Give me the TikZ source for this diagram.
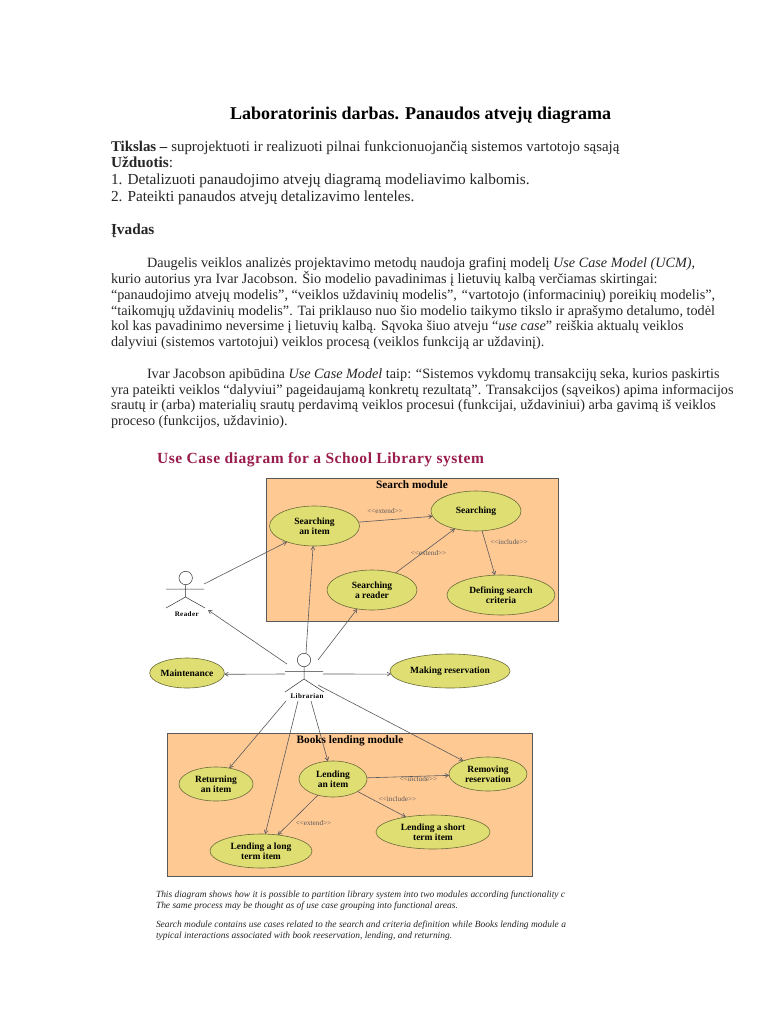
\documentclass[tikz,border=0pt]{standalone}
\usepackage{fontspec}
\setmainfont{Liberation Serif}
\usetikzlibrary{shapes.geometric,arrows.meta}
\definecolor{peach}{HTML}{FFC994}
\definecolor{olivefill}{HTML}{DEDE72}
\definecolor{edgeolive}{HTML}{6B6B3A}
\definecolor{crimson}{HTML}{9A1C4C}
\definecolor{linkgray}{HTML}{5A5A5A}
\tikzset{
  txt/.style={anchor=base west,inner sep=0pt,outer sep=0pt,text=black!85,font=\fontsize{14.2}{16}\selectfont},
  toptxt/.style={txt,font=\fontsize{15.3}{17}\selectfont},
  capt/.style={txt,font=\fontsize{9.45}{12}\selectfont\itshape},
  uc/.style={shape=ellipse,draw=edgeolive,line width=.6pt,fill=olivefill,inner sep=0pt,outer sep=0pt,align=center,font=\fontsize{9.5}{10.5}\selectfont\bfseries},
  module/.style={draw=black!65,line width=1pt,fill=peach},
  modtitle/.style={inner sep=0pt,font=\fontsize{11.3}{13}\selectfont\bfseries},
  link/.style={draw=linkgray,line width=.6pt,-{Straight Barb[length=3.5pt,width=4pt]}},
  stereo/.style={inner sep=0pt,text=black!65,font=\fontsize{7.2}{8}\selectfont},
  actor/.style={draw=black!80,line width=.5pt},
  actorlabel/.style={inner sep=0pt,font=\fontsize{7}{8}\selectfont\bfseries\addfontfeature{LetterSpace=6}},
  head/.style={shape=circle,draw=black!80,line width=.5pt,fill=white,inner sep=0pt,minimum size=13.4pt}
}
\begin{document}
\begin{tikzpicture}[x=1pt,y=-1pt]
\useasboundingbox (0,0) rectangle (768,1024);
\fill[white] (0,0) rectangle (768,1024);

% page text
\node[anchor=base west,inner sep=0pt,font=\fontsize{18}{20}\selectfont\bfseries] (title) at (230,119.5) {Laboratorinis darbas. Panaudos atvejų diagrama};
\node[toptxt,font=\fontsize{14.9}{17}\selectfont] (t1) at (111,152) {\textbf{Tikslas –} suprojektuoti ir realizuoti pilnai funkcionuojančią sistemos vartotojo sąsają};
\node[toptxt] (t2) at (111,168) {\textbf{Užduotis}:};
\node[toptxt] (t3) at (111,185) {1. Detalizuoti panaudojimo atvejų diagramą modeliavimo kalbomis.};
\node[toptxt] (t4) at (111,201.5) {2. Pateikti panaudos atvejų detalizavimo lenteles.};
\node[toptxt,font=\fontsize{15.3}{17}\selectfont\bfseries] (t5) at (111,235) {Įvadas};
\node[txt] (p1) at (147,267.5) {Daugelis veiklos analizės projektavimo metodų naudoja grafinį modelį \textit{Use Case Model (UCM)},};
\node[txt] (p2) at (111,283) {kurio autorius yra Ivar Jacobson. Šio modelio pavadinimas į lietuvių kalbą verčiamas skirtingai:};
\node[txt] (p3) at (111,299) {“panaudojimo atvejų modelis”, “veiklos uždavinių modelis”, \textit{“}vartotojo (informacinių) poreikių modelis”,};
\node[txt] (p4) at (111,315.5) {“taikomųjų uždavinių modelis”. Tai priklauso nuo šio modelio taikymo tikslo ir aprašymo detalumo, todėl};
\node[txt] (p5) at (111,330.5) {kol kas pavadinimo neversime į lietuvių kalbą. Sąvoka šiuo atveju “\textit{use case}” reiškia aktualų veiklos};
\node[txt] (p6) at (111,346) {dalyviui (sistemos vartotojui) veiklos procesą (veiklos funkciją ar uždavinį).};
\node[txt] (p7) at (147,378) {Ivar Jacobson apibūdina \textit{Use Case Model} taip: “Sistemos vykdomų transakcijų seka, kurios paskirtis};
\node[txt] (p8) at (111,394) {yra pateikti veiklos “dalyviui” pageidaujamą konkretų rezultatą”. Transakcijos (sąveikos) apima informacijos};
\node[txt] (p9) at (111,409.5) {srautų ir (arba) materialių srautų perdavimą veiklos procesui (funkcijai, uždaviniui) arba gavimą iš veiklos};
\node[txt] (p10) at (111,425) {proceso (funkcijos, uždavinio).};

\node[anchor=base west,inner sep=0pt,text=crimson,font=\fontsize{15.5}{17}\selectfont\bfseries\addfontfeature{LetterSpace=3.4}] (dtitle) at (157,463) {Use Case diagram for a School Library system};

% modules
\path[module] (266,478) rectangle (558,621);
\node[modtitle] (smod) at (412,485) {Search module};
\path[module] (167,733) rectangle (532,876);
\node[modtitle] (bmod) at (350,740.5) {Books lending module};

% use cases
\node[uc,minimum width=90pt,minimum height=40pt] (item) at (314.5,526) {Searching\\an item};
\node[uc,minimum width=90pt,minimum height=40pt] (search) at (476,511) {Searching};
\node[uc,minimum width=90pt,minimum height=40pt] (sreader) at (372,590) {Searching\\a reader};
\node[uc,minimum width=108pt,minimum height=40pt] (defcrit) at (501,595) {Defining search\\criteria};
\node[uc,minimum width=74pt,minimum height=30pt] (maint) at (187,673) {Maintenance};
\node[uc,minimum width=120pt,minimum height=34pt] (making) at (450,671) {Making reservation};
\node[uc,minimum width=74pt,minimum height=34pt] (ret) at (216,784) {Returning\\an item};
\node[uc,minimum width=68pt,minimum height=36pt] (lend) at (333,779) {Lending\\an item};
\node[uc,minimum width=78pt,minimum height=34pt] (remov) at (488,774) {Removing\\reservation};
\node[uc,minimum width=114pt,minimum height=34pt] (short) at (433,832) {Lending a short\\term item};
\node[uc,minimum width=102pt,minimum height=34pt] (long) at (261,851) {Lending a long\\term item};

% actors
\node[head] (rhead) at (185.7,578) {};
\draw[actor] (rhead.south) -- (185.5,597) (166,589) -- (204,589) (166,608) -- (185.5,597) -- (205,608);
\node[actorlabel] (rlabel) at (186.7,614) {Reader};
\node[head] (lhead) at (304,660) {};
\draw[actor] (lhead.south) -- (304,679) (285,671.7) -- (323,671.7) (285,692) -- (304,679) -- (324,692);
\node[actorlabel] (llabel) at (307,696.5) {Librarian};

\coordinate (rout) at (204,584);
\coordinate (rin) at (208,610);
\coordinate (la) at (306,653);
\coordinate (lb) at (318,660);
\coordinate (lc) at (287,664);
\coordinate (ld) at (285,674);
\coordinate (le) at (323,674);
\coordinate (lf) at (318,685);
\coordinate (lg) at (286,701);
\coordinate (lh) at (298,701);
\coordinate (li) at (311,701);

% connectors
\draw[link] (rout) -- (item.210);
\draw[link] (la) -- (item.266);
\draw[link] (lb) -- (sreader.232);
\draw[link] (lc) -- (rin);
\draw[link] (ld) -- (maint.358);
\draw[link] (le) -- (making.183);
\draw[link] (lf) -- (remov.152);
\draw[link] (lg) -- (ret.50);
\draw[link] (lh) -- (long.76);
\draw[link] (li) -- (lend.106);
\draw[link] (item.5) -- (search.187);
\draw[link] (sreader.36) -- (search.220);
\draw[link] (search.287) -- (defcrit.107);
\draw[link] (lend.2) -- (remov.182);
\draw[link] (lend.333) -- (short.151);
\draw[link] (lend.227) -- (long.44);

% stereotypes
\node[stereo] (s1) at (385,511.5) {<{}<extend>{}>};
\node[stereo] (s2) at (428.5,553.5) {<{}<extend>{}>};
\node[stereo] (s3) at (509,542) {<{}<include>{}>};
\node[stereo] (s4) at (418.5,779) {<{}<include>{}>};
\node[stereo] (s5) at (397.5,799) {<{}<include>{}>};
\node[stereo] (s6) at (313.5,823) {<{}<extend>{}>};

% caption
\node[capt] (c1) at (156,897) {This diagram shows how it is possible to partition library system into two modules according functionality c};
\node[capt] (c2) at (156,908) {The same process may be thought as of use case grouping into functional areas.};
\node[capt] (c3) at (156,927) {Search module contains use cases related to the search and criteria definition while Books lending module a};
\node[capt] (c4) at (156,938) {typical interactions associated with book reeservation, lending, and returning.};
\end{tikzpicture}
\end{document}
